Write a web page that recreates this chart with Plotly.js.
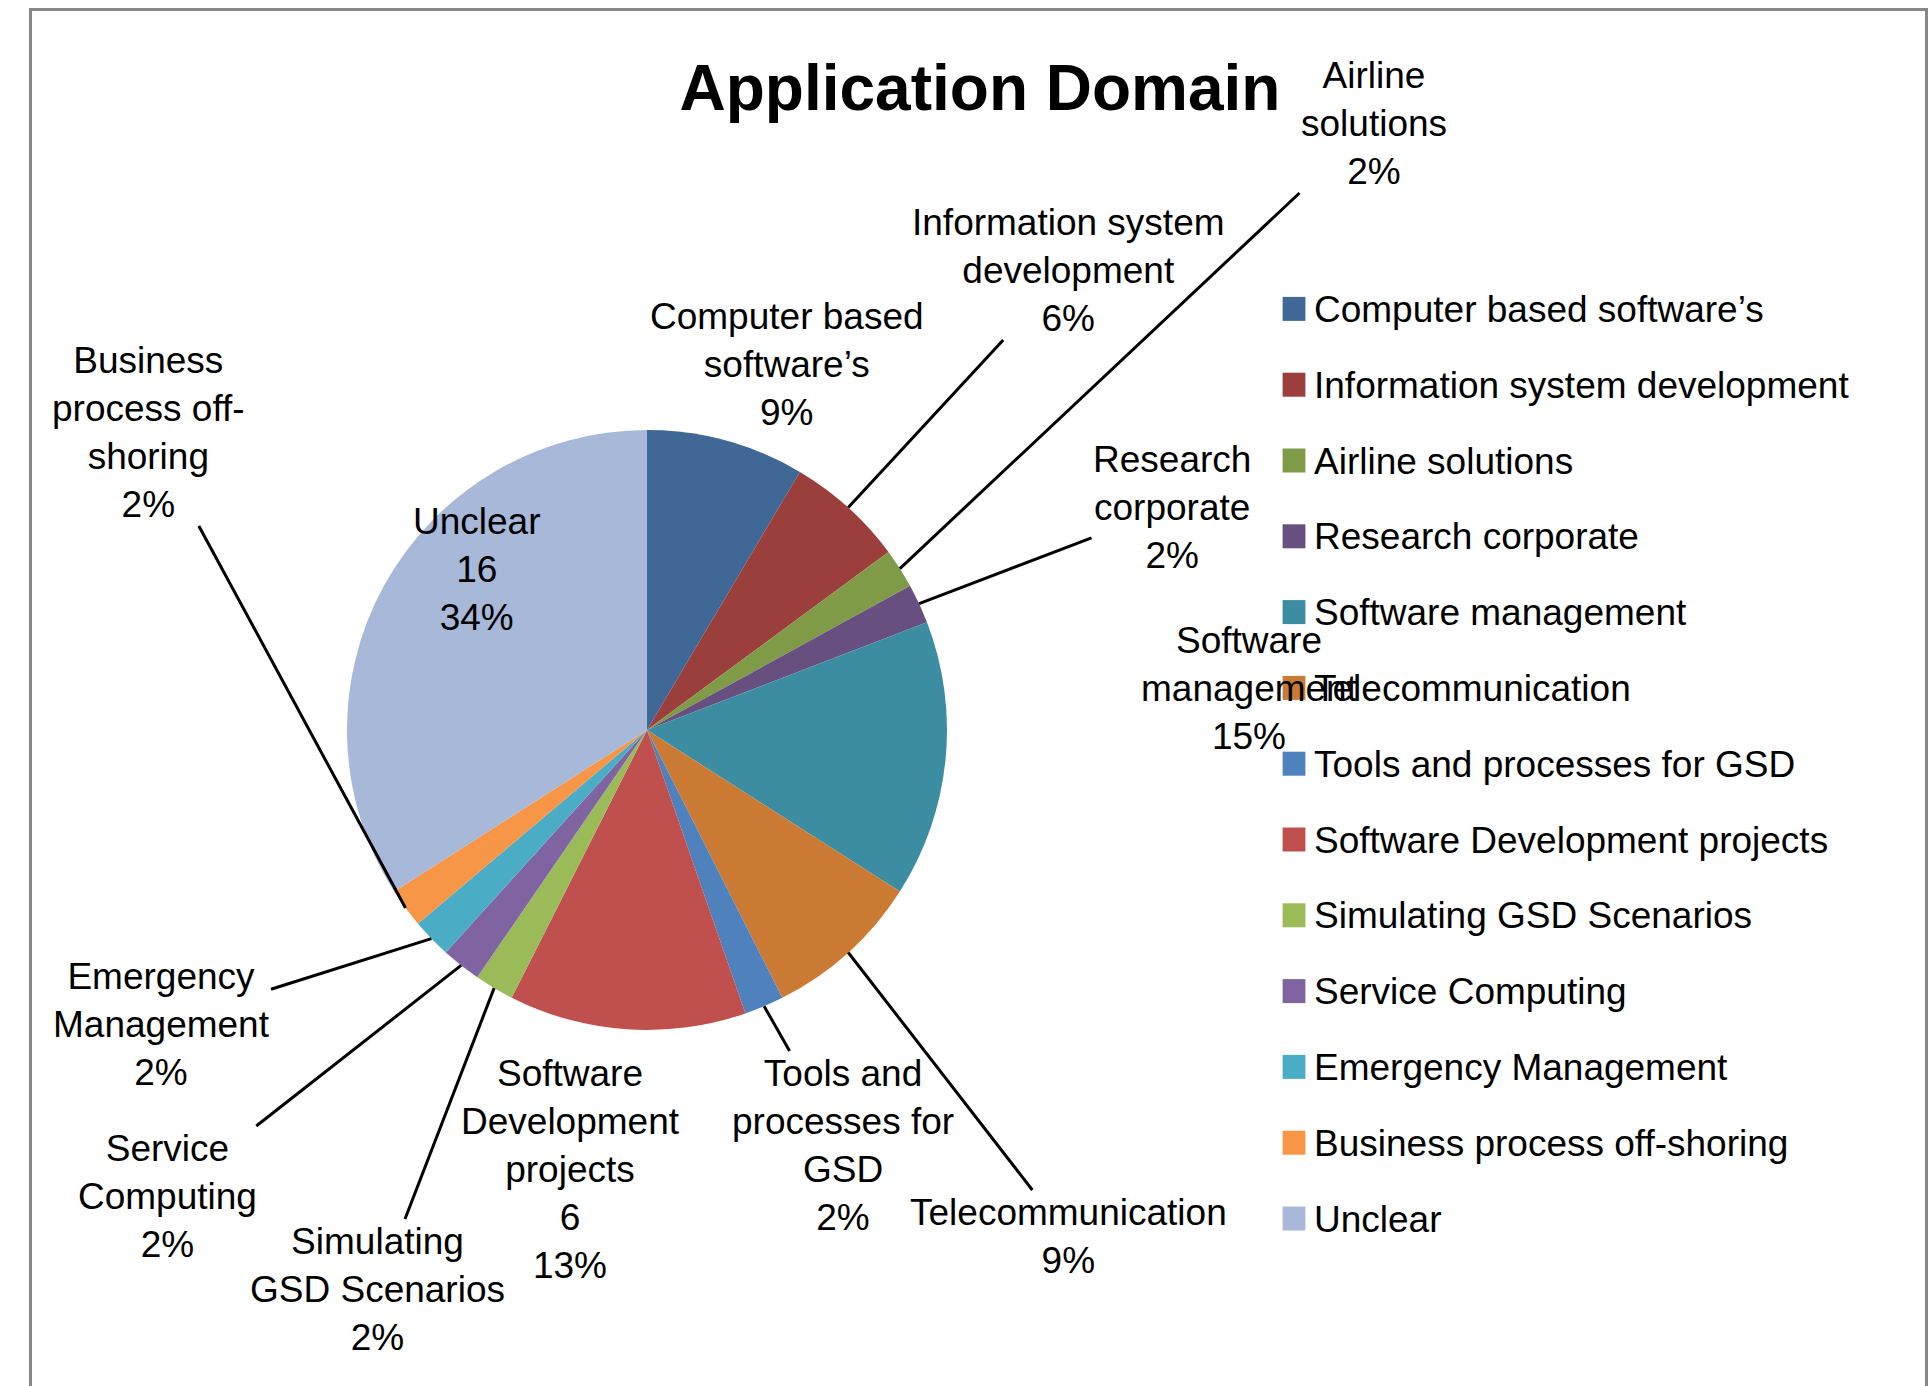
<!DOCTYPE html>
<html>
<head>
<meta charset="utf-8">
<script src="https://cdn.plot.ly/plotly-3.0.1.min.js"></script>
<style>
  html, body { margin: 0; padding: 0; background: #ffffff; }
  #wrap { position: relative; width: 1929px; height: 1386px; overflow: hidden; }
  #chart { position: absolute; left: 0; top: 0; width: 1929px; height: 1386px; }
  #frame { position: absolute; left: 29px; top: 8px; width: 1893px; height: 1400px;
           border: 3px solid #888888; pointer-events: none; }
</style>
</head>
<body>
<div id="wrap">
  <div id="chart"></div>
  <div id="frame"></div>
</div>
<script>
// ---- data ----
const categories = [
  "Computer based software’s",
  "Information system development",
  "Airline solutions",
  "Research corporate",
  "Software management",
  "Telecommunication",
  "Tools and processes for GSD",
  "Software Development projects",
  "Simulating GSD Scenarios",
  "Service Computing",
  "Emergency Management",
  "Business process off-shoring",
  "Unclear"
];
const counts = [4, 3, 1, 1, 7, 4, 1, 6, 1, 1, 1, 1, 16];
const sliceLabels = [
  "Computer based<br>software’s",
  "Information system<br>development",
  "Airline<br>solutions",
  "Research<br>corporate",
  "Software<br>management",
  "Telecommunication",
  "Tools and<br>processes for<br>GSD",
  "Software<br>Development<br>projects",
  "Simulating<br>GSD Scenarios",
  "Service<br>Computing",
  "Emergency<br>Management",
  "Business<br>process off-<br>shoring",
  "Unclear"
];
const showCount = [false, false, false, false, false, false, false, true, false, false, false, false, true];
const sliceColors = [
  "#3F6896", "#9B3F3C", "#7F9B48", "#67507F", "#3C8DA1", "#CB7A34",
  "#4F81BD", "#C0504D", "#9BBB59", "#8064A2", "#4BACC6", "#F79646", "#A7B8D8"
];

// ---- layout constants (pixels) ----
const FONT = "Liberation Sans, Arial, sans-serif";
const W = 1929, H = 1386;
const cx = 647, cy = 730, r = 300;
// where each label sits
const labelPos = [
  [787, 364], [1068, 270], [1374, 123], [1172, 507], [1249, 689], [1068, 1236],
  [843, 1145], [570, 1169], [378, 1289], [167, 1196], [161, 1024], [148, 432], [477, 570]
];
const leader = [false, true, true, true, false, true, true, false, true, true, true, true, false];

const total = counts.reduce((a, b) => a + b, 0);
const pctText = v => Math.round(v / total * 100) + "%";

const trace = {
  type: "pie",
  labels: categories,
  values: counts,
  textinfo: "none",
  sort: false,
  direction: "clockwise",
  rotation: 0,
  marker: { colors: sliceColors, line: { width: 0 } },
  hoverinfo: "none",
  domain: {
    x: [(cx - r) / W, (cx + r) / W],
    y: [(H - cy - r) / H, (H - cy + r) / H]
  }
};

// label annotations; leader lines end on the slice edge at each slice's middle angle
const annotations = [];
let cum = 0;
counts.forEach((v, i) => {
  const mid = (cum + v / 2) / total * 2 * Math.PI;
  cum += v;
  const pos = labelPos[i];
  const txt = sliceLabels[i] + (showCount[i] ? "<br>" + v : "") + "<br>" + pctText(v);
  const base = {
    text: txt, xref: "paper", yref: "paper",
    font: { family: FONT, size: 37, color: "#000000" },
    align: "center", xanchor: "center", yanchor: "middle"
  };
  if (leader[i]) {
    const tx = cx + r * Math.sin(mid), ty = cy - r * Math.cos(mid);
    annotations.push(Object.assign(base, {
      x: tx / W, y: 1 - ty / H,
      showarrow: true, arrowhead: 0, arrowwidth: 3, arrowcolor: "#000000",
      axref: "pixel", ayref: "pixel",
      ax: pos[0] - tx, ay: pos[1] - ty
    }));
  } else {
    annotations.push(Object.assign(base, {
      x: pos[0] / W, y: 1 - pos[1] / H, showarrow: false
    }));
  }
});

const layout = {
  width: W,
  height: H,
  margin: { l: 0, r: 0, t: 0, b: 0, autoexpand: false },
  paper_bgcolor: "#ffffff",
  plot_bgcolor: "#ffffff",
  font: { family: FONT, color: "#000000" },
  title: {
    text: "<b>Application Domain</b>",
    font: { family: FONT, size: 64, color: "#000000" },
    x: 980 / W, xanchor: "center",
    y: 1 - 88 / H, yanchor: "middle"
  },
  showlegend: true,
  legend: {
    x: 1274 / W, xanchor: "left",
    y: 1 - 266 / H, yanchor: "top",
    font: { family: FONT, size: 56, color: "#000000" },
    bgcolor: "rgba(0,0,0,0)",
    borderwidth: 0
  },
  annotations: annotations
};

Plotly.newPlot("chart", [trace], layout, { staticPlot: true, displayModeBar: false }).then(() => {
  // legend: smaller text with wide row spacing, larger swatches
  document.querySelectorAll("#chart .legend .legendtext").forEach(t => {
    t.style.fontSize = "37px";
    t.setAttribute("y", "13");
  });
  document.querySelectorAll("#chart .legend .legendpoints path").forEach(p => {
    p.setAttribute("transform", "translate(20,0) scale(1.9,2.0)");
  });
});
</script>
</body>
</html>
